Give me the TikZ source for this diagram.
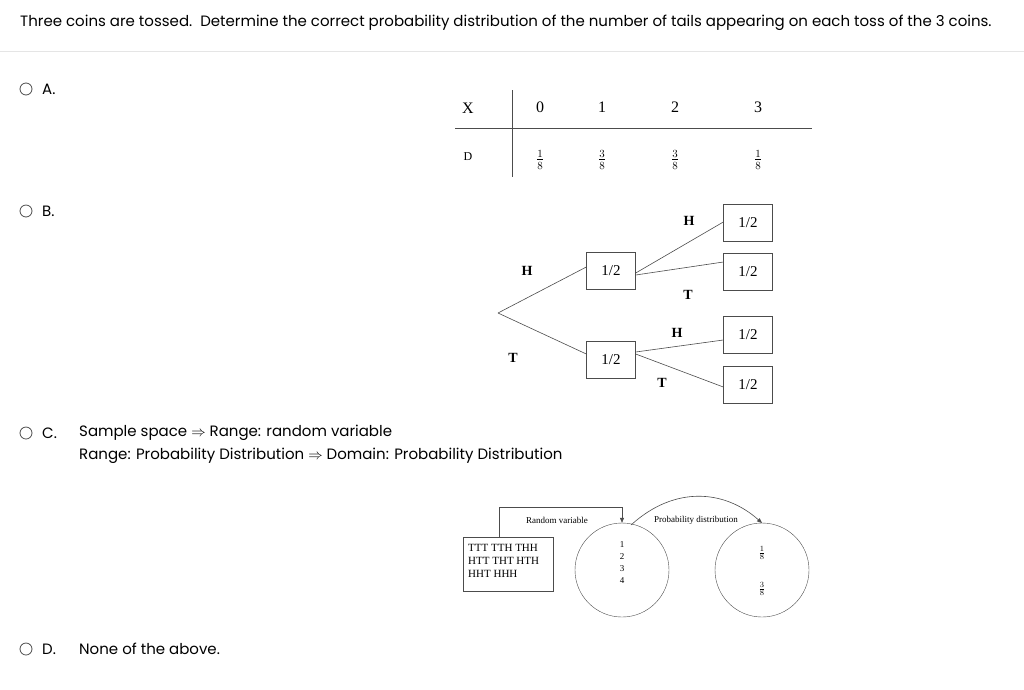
\documentclass[tikz,border=0pt]{standalone}
\usepackage{fontspec}
\setmainfont{Liberation Serif}
\newfontfamily\qf{Poppins}
\usetikzlibrary{arrows.meta}
\tikzset{
 radio/.style={draw=black!70,line width=0.8pt},
 qtext/.style={font=\qf\fontsize{15}{18}\selectfont,anchor=west,inner sep=0},
 tb/.style={font=\fontsize{16}{18}\selectfont,inner sep=0},
 pbox/.style={draw=black!70,minimum width=49pt,minimum height=37pt,font=\fontsize{15}{17}\selectfont,inner sep=0},
 bl/.style={font=\bfseries\fontsize{14}{16}\selectfont,inner sep=0},
 ln/.style={draw=black!70,line width=0.6pt},
 sm/.style={font=\fontsize{9}{10}\selectfont,inner sep=0},
}
\begin{document}
\begin{tikzpicture}[x=1pt,y=-1pt]
\useasboundingbox (0,0) rectangle (1024,689);
\fill[white] (0,0) rectangle (1024,689);
\node[qtext] (q) at (20,23) {Three coins are tossed.\ \ Determine the correct probability distribution of the number of tails appearing on each toss of the 3 coins.};
\draw[black!10] (0,51) -- (1024,51);
% radios
\node[radio,circle,minimum size=12pt,inner sep=0] (ra) at (26,89) {};
\node[radio,circle,minimum size=12pt,inner sep=0] (rb) at (26,211) {};
\node[radio,circle,minimum size=12pt,inner sep=0] (rc) at (26,433) {};
\node[radio,circle,minimum size=12pt,inner sep=0] (rd) at (26,649) {};
\node[qtext] (la) at (42,89) {A.};
\node[qtext] (lb) at (42,211) {B.};
\node[qtext] (lc) at (42,433) {C.};
\node[qtext] (ld) at (42,649) {D.};
% table
\coordinate (vt) at (512,90); \coordinate (vb) at (512,177);
\coordinate (hl) at (455,128); \coordinate (hr) at (812,128);
\draw[ln] (vt) -- (vb); \draw[ln] (hl) -- (hr);
\node[tb] (tx) at (468,108) {X};
\node[tb] (t0) at (540,107) {0};
\node[tb] (t1) at (602,107) {1};
\node[tb] (t2) at (675,107) {2};
\node[tb] (t3) at (758,107) {3};
\node[tb,font=\fontsize{12}{13}\selectfont] (td) at (468,157) {D};
\node[tb] (f0) at (540,160) {$\frac{1}{8}$};
\node[tb] (f1) at (602,160) {$\frac{3}{8}$};
\node[tb] (f2) at (675,160) {$\frac{3}{8}$};
\node[tb] (f3) at (758,160) {$\frac{1}{8}$};
% tree
\coordinate (root) at (498,313);
\node[pbox] (b1) at (611,271) {1/2};
\node[pbox] (b2) at (611,360) {1/2};
\node[pbox] (c1) at (748,223) {1/2};
\node[pbox] (c2) at (748,272) {1/2};
\node[pbox] (c3) at (748,335) {1/2};
\node[pbox] (c4) at (748,385) {1/2};
\draw[ln] (root) -- ([yshift=4pt]b1.west);
\draw[ln] (root) -- ([yshift=6pt]b2.west);
\draw[ln] ([yshift=-2pt]b1.east) -- ([yshift=1pt]c1.west);
\draw[ln] ([yshift=-4pt]b1.east) -- ([yshift=10pt]c2.west);
\draw[ln] ([yshift=8pt]b2.east) -- ([yshift=-5pt]c3.west);
\draw[ln] ([yshift=6pt]b2.east) -- ([yshift=-2pt]c4.west);
\node[bl] (h1) at (527,271) {H};
\node[bl] (t1l) at (513,358) {T};
\node[bl] (h2) at (689,221) {H};
\node[bl] (t2l) at (688,295) {T};
\node[bl] (h3) at (677,333) {H};
\node[bl] (t3l) at (662,383) {T};
% C
\node[qtext] (c1t) at (79,433) {Sample space $\Rightarrow$ Range: random variable};
\node[qtext] (c2t) at (79,456) {Range: Probability Distribution $\Rightarrow$ Domain: Probability Distribution};
% bottom diagram
\node[draw=black!70,minimum width=90pt,minimum height=54pt,inner sep=0] (ss) at (508,564) {};
\node[font=\fontsize{11}{13}\selectfont,align=left,inner sep=0,anchor=north west] (sst) at (468,544) {TTT TTH THH\\HTT THT HTH\\HHT HHH};
\node[draw=black!70,circle,minimum size=94pt,inner sep=0] (k1) at (622,570) {};
\node[draw=black!70,circle,minimum size=94pt,inner sep=0] (k2) at (762,570) {};
\coordinate (ssu) at (499,537);
\draw[ln,-{Triangle[length=5pt,width=4pt]}] (ssu) |- (622,507) -- (k1.north);
\node[sm] (rv) at (557,520) {Random variable};
\draw[ln,-{Triangle[length=5pt,width=4pt]}] (631,525) .. controls (675,485) and (725,490) .. (762,523);
\node[sm] (pd) at (696,520) {Probability distribution};
\node[sm,align=center,font=\fontsize{9}{12}\selectfont] (nums) at (622,563) {1\\2\\3\\4};
\node[sm,font=\fontsize{11}{12}\selectfont] (g1) at (762,553) {$\frac{1}{8}$};
\node[sm,font=\fontsize{11}{12}\selectfont] (g2) at (762,589) {$\frac{3}{8}$};
\node[qtext] (dt) at (79,649) {None of the above.};
\end{tikzpicture}
\end{document}
